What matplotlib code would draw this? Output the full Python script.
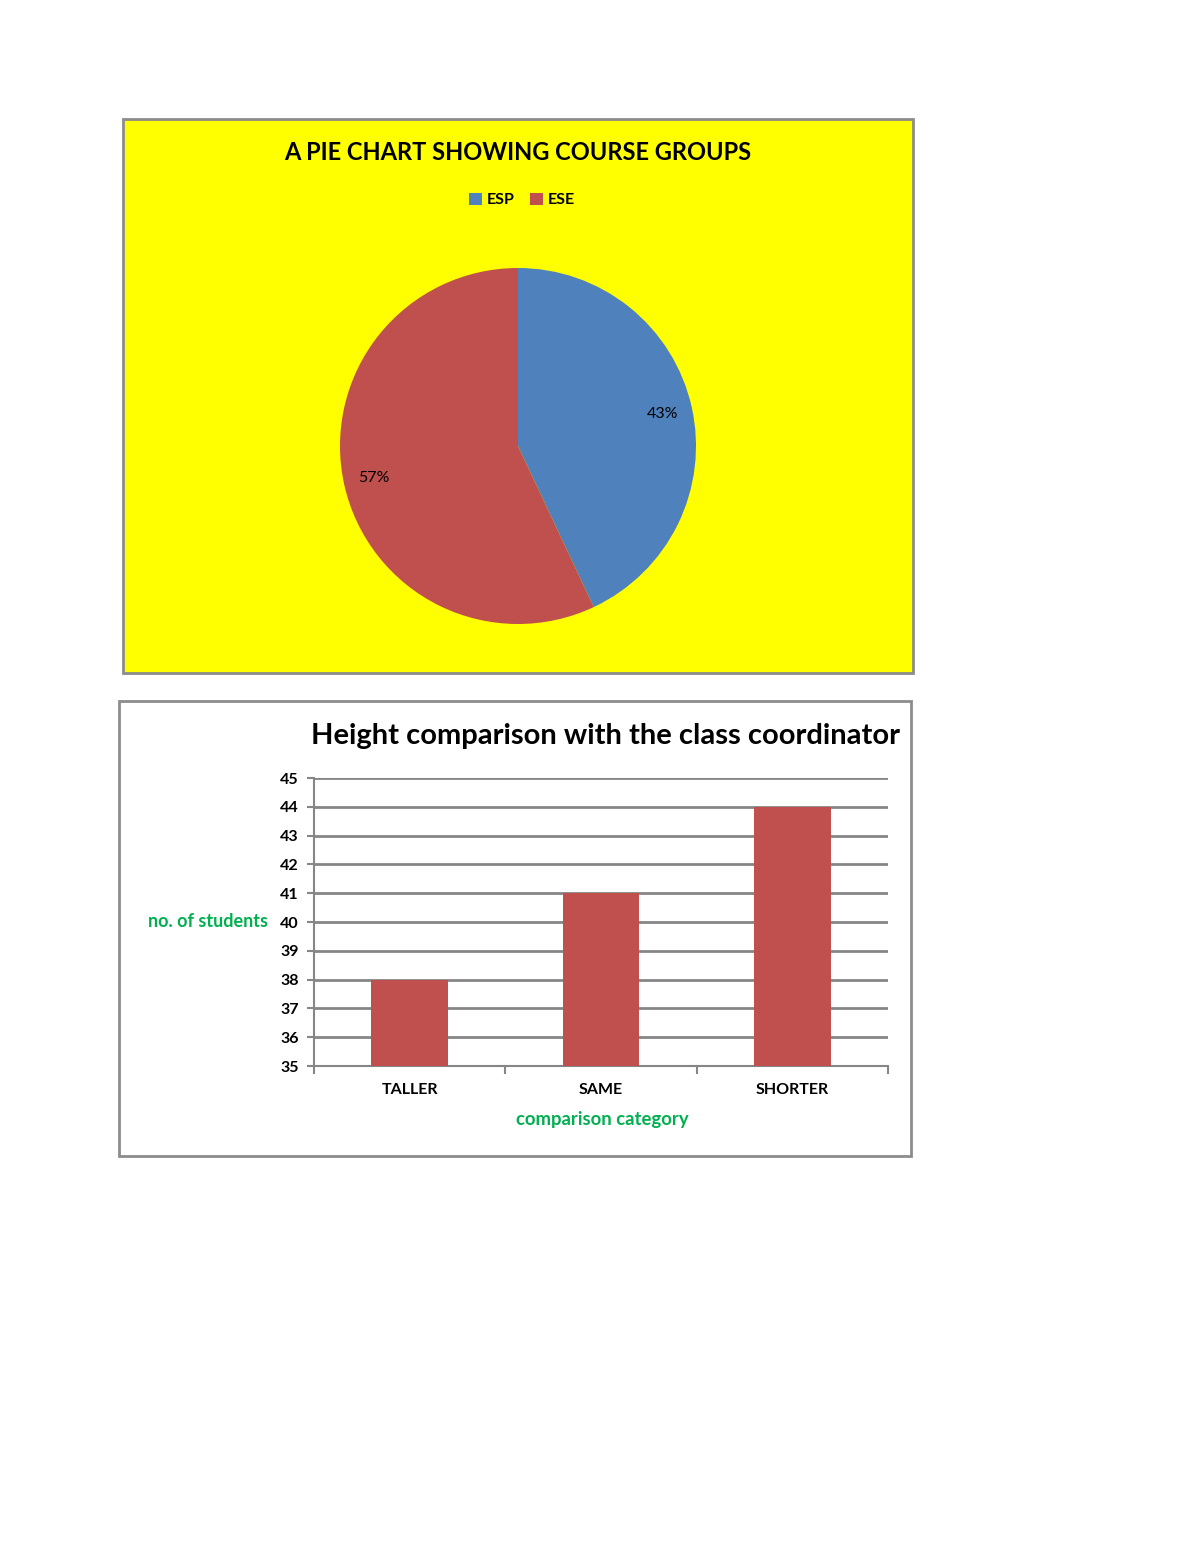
import numpy as np
import matplotlib
matplotlib.use('Agg')
import matplotlib.pyplot as plt
from matplotlib.patches import Rectangle, Patch

plt.rcParams['font.family'] = ['Lato', 'DejaVu Sans']

# 饼图数据
pie_labels = ['ESP', 'ESE']
pie_values = [43, 57]
pie_colors = ['#4F81BD', '#C0504D']

# 柱状图数据
bar_cats = ['TALLER', 'SAME', 'SHORTER']
bar_values = [38, 41, 44]
bar_color = '#C0504D'

W, H = 1200, 1553
fig = plt.figure(figsize=(W / 100, H / 100), dpi=100)
fig.patch.set_facecolor('white')

def fx(px):
    return px / W

def fy(py):
    return 1 - py / H

# 上面的黄色面板
fig.patches.append(Rectangle((fx(123), fy(673)), fx(790), 554 / H,
                             transform=fig.transFigure, facecolor='#FFFF00',
                             edgecolor='#8C8C8C', linewidth=2, zorder=-10))
fig.text(fx(518), fy(153), 'A PIE CHART SHOWING COURSE GROUPS', ha='center', va='center',
         fontsize=17, fontweight='bold')
handles = [Patch(facecolor=c, label=l) for c, l in zip(pie_colors, pie_labels)]
fig.legend(handles=handles, loc='center', bbox_to_anchor=(fx(522), fy(200)), ncol=2,
           frameon=False, handlelength=0.8, handleheight=0.8, handletextpad=0.3,
           columnspacing=1.0, prop={'size': 11.5, 'weight': 'bold'})

ax1 = fig.add_axes([fx(340), fy(624), fx(356), 356 / H])
wedges, texts, autotexts = ax1.pie(pie_values, colors=pie_colors, startangle=90,
                                   counterclock=False, autopct='%d%%', pctdistance=0.83,
                                   textprops={'fontsize': 11.5})
ax1.set_xlim(-1, 1)
ax1.set_ylim(-1, 1)
ax1.set_aspect('auto')
ax1.axis('off')

# 下面的柱状图面板
fig.patches.append(Rectangle((fx(119), fy(1156)), fx(792), 455 / H,
                             transform=fig.transFigure, facecolor='white',
                             edgecolor='#8C8C8C', linewidth=2, zorder=-10))
fig.text(fx(311), fy(736), 'Height comparison with the class coordinator', ha='left',
         va='center', fontsize=21, fontweight='bold')

ax2 = fig.add_axes([fx(314), fy(1066), fx(574), 288 / H])
ax2.set_facecolor('none')
x = np.arange(len(bar_cats))
ax2.bar(x, np.array(bar_values) - 35, bottom=35, width=0.4, color=bar_color, zorder=3)
ax2.set_xlim(-0.5, len(bar_cats) - 0.5)
ax2.set_ylim(35, 45)
ax2.set_yticks(np.arange(35, 46, 1))
ax2.set_xticks(x)
ax2.set_xticklabels(bar_cats, fontsize=11.5, fontweight='bold')
ax2.set_xticks(np.arange(-0.5, len(bar_cats), 1), minor=True)
ax2.tick_params(axis='x', which='major', length=0, pad=12)
ax2.tick_params(axis='x', which='minor', length=6, width=1.5, color='#868686')
ax2.tick_params(axis='y', length=5, width=1.5, color='#868686', pad=6, labelsize=11.5)
for lab in ax2.get_yticklabels():
    lab.set_fontweight('bold')
ax2.grid(axis='y', color='#868686', linewidth=2, zorder=0)
for s in ['top', 'right']:
    ax2.spines[s].set_visible(False)
for s in ['left', 'bottom']:
    ax2.spines[s].set_color('#868686')
    ax2.spines[s].set_linewidth(1.5)

fig.text(fx(208), fy(922), 'no. of students', ha='center', va='center', fontsize=13,
         fontweight='bold', color='#00B050')
fig.text(fx(602), fy(1120), 'comparison category', ha='center', va='center', fontsize=13.3,
         fontweight='bold', color='#00B050')

fig.savefig('out.png', dpi=100)
